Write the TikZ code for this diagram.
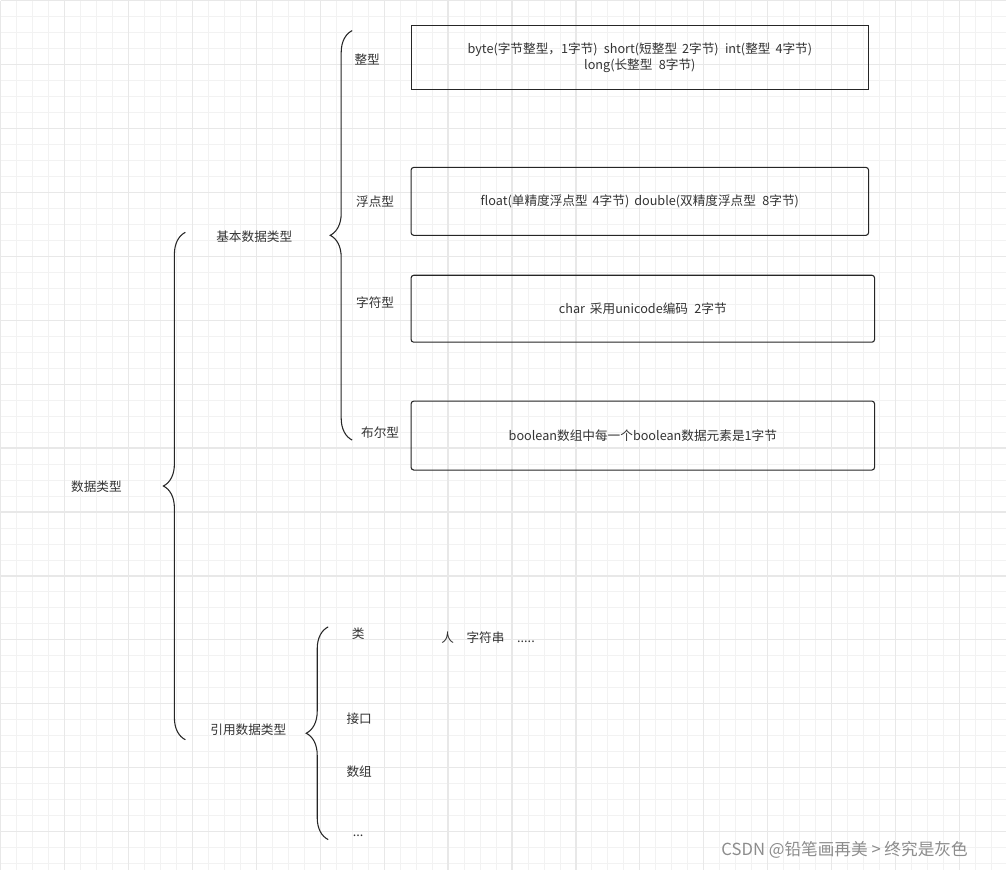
\documentclass[tikz,border=0pt]{standalone}
\usepackage{fontspec}
\setmainfont{Noto Sans CJK SC}
\usetikzlibrary{decorations.pathreplacing}

\begin{document}
\begin{tikzpicture}[x=0.75pt,y=-0.75pt,
    txt/.style={font=\fontsize{9.5}{12}\selectfont, text=black!80},
    box/.style={draw=black!85, line width=0.8pt, minimum height=#1*0.75pt},
    brc/.style={draw=black!85, line width=0.8pt, decorate,
      decoration={brace, amplitude=#1*0.75pt}}]
  % background grid
  \fill[white] (0,0) rectangle (1007,870);
  \draw[black!5, line width=0.6pt, step=12pt] (0,0) grid (1007,870);
  \draw[black!9, line width=0.9pt, step=48pt] (0,0) grid (1007,870);
  \useasboundingbox (0,0) rectangle (1007,870);

  % braces
  \coordinate (b1s) at (185,740);
  \coordinate (b1e) at (185,232);
  \coordinate (b2s) at (352,440);
  \coordinate (b2e) at (352,30);
  \coordinate (b3s) at (328,840);
  \coordinate (b3e) at (328,627);
  \draw[brc=22] (b1s) -- (b1e);
  \draw[brc=22] (b2s) -- (b2e);
  \draw[brc=22] (b3s) -- (b3e);

  % labels
  \node[txt] (root) at (96,487) {数据类型};
  \node[txt] (basic) at (254,236) {基本数据类型};
  \node[txt] (ref) at (248,730) {引用数据类型};
  \node[txt] (int) at (367,59) {整型};
  \node[txt] (flt) at (375,201) {浮点型};
  \node[txt] (chr) at (375,302) {字符型};
  \node[txt] (bool) at (380,433) {布尔型};
  \node[txt] (cls) at (358,634) {类};
  \node[txt] (clsex) at (488,638) {人\quad 字符串\quad .....};
  \node[txt] (intf) at (359,719) {接口};
  \node[txt] (arr) at (359,772) {数组};
  \node[txt] (etc) at (358,836) {...};

  % boxes
  \node[box=64, minimum width=458*0.75pt, txt, align=center] (intbox) at (640,57)
    {byte(字节整型，1字节)\enspace short(短整型 \,2字节)\enspace int(整型 \,4字节)\\long(长整型\enspace 8字节)};
  \node[box=68, minimum width=458*0.75pt, rounded corners=2pt, txt] (fltbox) at (640,201)
    {float(单精度浮点型 \,4字节)\, double(双精度浮点型\enspace 8字节)};
  \node[box=67, minimum width=464*0.75pt, rounded corners=2pt, txt] (chrbox) at (643,308.5)
    {char\, 采用unicode编码\enspace 2字节};
  \node[box=69, minimum width=464*0.75pt, rounded corners=2pt, txt] (boolbox) at (643,435.5)
    {boolean数组中每一个boolean数据元素是1字节};

  \node[font=\fontsize{12.5}{14}\selectfont, text=black!45] (mark) at (845,850)
    {CSDN @铅笔画再美 > 终究是灰色};
\end{tikzpicture}
\end{document}
